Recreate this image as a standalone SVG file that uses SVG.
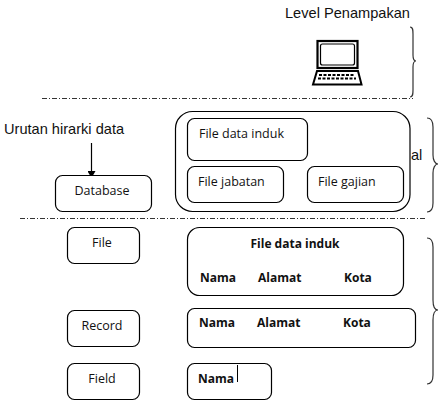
<svg xmlns="http://www.w3.org/2000/svg" width="446" height="411" viewBox="0 0 446 411">
<style>
.b{fill:#fff;stroke:#000;stroke-width:1.2}
.t{font-family:"Open Sans","Noto Sans",sans-serif;font-size:12.500px;fill:#111}
.h{font-weight:700;font-size:12px}
.a{font-family:"Liberation Sans",Arial,sans-serif;font-size:14.600px;fill:#111}
.m{text-anchor:middle}
.br{fill:none;stroke:#333;stroke-width:1.2}
.d{fill:none;stroke:#333;stroke-width:1;stroke-dasharray:5 2 1 2}
</style>
<defs><marker id="arr" markerWidth="8" markerHeight="8" refX="7" refY="4" orient="auto" markerUnits="userSpaceOnUse"><path d="M0,0L7,4L0,8z" fill="#000"/></marker></defs>
<rect width="446" height="411" fill="#fff"/>
<g id="connectors">
<path class="d" d="M42,98.500H413"/>
<path class="d" d="M20,218.500H427"/>
<path d="M91.500,143V178" fill="none" stroke="#000" stroke-width="1.200" marker-end="url(#arr)"/>
<path class="br" d="M410,27C413,27 413,30 413,34V55C413,59 414,61 416,61C414,61 413,63 413,67V90C413,94 413,97 410,97"/>
<path class="br" d="M427,118C432,118 433,122 433,127V155C433,160 435,164 438,164C435,164 433,168 433,173V203C433,208 432,212 427,212"/>
<path class="br" d="M427,238C432,238 433,242 433,247V300C433,306 435,310 438,310C435,310 433,314 433,320V375C433,380 432,384 427,384"/>
</g>
<g id="level"><text class="a" x="285" y="18">Level Penampakan</text></g>
<g id="laptop">
<rect x="317.500" y="41" width="40" height="27" fill="#fff" stroke="#000" stroke-width="2.200"/>
<rect x="320.500" y="44" width="34" height="21" rx="2" fill="#fff" stroke="#000" stroke-width="1.200"/>
<path d="M317,71H358L361.500,84.500H313Z" fill="#fff" stroke="#000" stroke-width="2"/>
<path d="M319,75H355M318,78.500H356" stroke="#000" stroke-width="2.200" stroke-dasharray="3 1.500" fill="none"/>
</g>
<g id="urutan"><text class="a" x="4" y="134">Urutan hirarki data</text></g>
<g id="database"><rect class="b" x="55.500" y="175.500" width="96" height="36" rx="7"/><text class="t m" x="102" y="195">Database</text></g>
<g id="konseptual">
<rect class="b" x="175.500" y="111.500" width="234.500" height="100" rx="17"/>
<text class="a" x="411" y="160">al</text>
</g>
<g id="file-data-induk-top"><rect class="b" x="187.500" y="118.500" width="120" height="42" rx="7"/><text class="t" x="199" y="138">File data induk</text></g>
<g id="file-jabatan"><rect class="b" x="187.500" y="166.500" width="96" height="36" rx="7"/><text class="t" x="198" y="186">File jabatan</text></g>
<g id="file-gajian"><rect class="b" x="307.500" y="166.500" width="96" height="36" rx="7"/><text class="t" x="318" y="186">File gajian</text></g>
<g id="file"><rect class="b" x="67.500" y="227.500" width="72" height="36" rx="7"/><text class="t m" x="102" y="247">File</text></g>
<g id="record"><rect class="b" x="67.500" y="310.500" width="72" height="36" rx="7"/><text class="t m" x="102" y="330">Record</text></g>
<g id="field"><rect class="b" x="67.500" y="363.500" width="72" height="36" rx="7"/><text class="t m" x="102" y="383">Field</text></g>
<g id="file-detail"><rect class="b" x="187.500" y="227.500" width="216" height="68" rx="12"/>
<text class="t h m" x="295" y="248">File data induk</text>
<text class="t h" x="200" y="282">Nama</text><text class="t h" x="258" y="282">Alamat</text><text class="t h" x="344" y="282">Kota</text></g>
<g id="record-detail"><rect class="b" x="187.500" y="308.500" width="228" height="39" rx="7"/>
<text class="t h" x="199" y="327">Nama</text><text class="t h" x="257" y="327">Alamat</text><text class="t h" x="343" y="327">Kota</text></g>
<g id="field-detail"><rect class="b" x="187.500" y="363.500" width="84" height="36" rx="7"/>
<text class="t h" x="198" y="383">Nama</text><path d="M237.500,365V382" stroke="#000" stroke-width="1"/></g>
</svg>
